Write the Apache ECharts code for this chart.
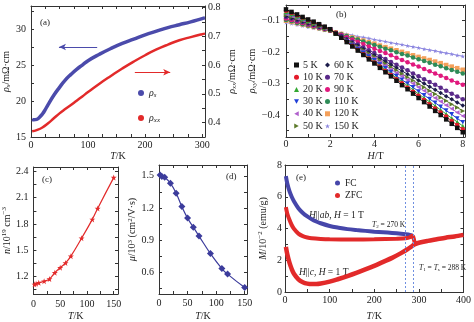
<!DOCTYPE html>
<html>
<head>
<meta charset="utf-8">
<script src="https://cdn.jsdelivr.net/npm/echarts@6/dist/echarts.min.js"></script>
<style>
html,body{margin:0;padding:0;background:#fff;}
#chart{width:474px;height:322px;}
</style>
</head>
<body>
<div id="chart"></div>
<script>
// ---------- (a) resistivity vs temperature ----------
const tempS = [2,5,10,15,20,25,30,40,50,60,70,80,90,100,120,140,160,180,200,220,240,260,280,300,305];
const rhoS = [17.45,17.4,17.45,17.75,18.2,18.8,19.5,20.8,21.9,22.9,23.7,24.4,25.0,25.6,26.5,27.3,28.0,28.6,29.2,29.7,30.2,30.6,31.0,31.45,31.55];
const tempXX = [2,10,20,30,40,50,60,70,80,90,100,120,140,160,180,200,220,240,260,280,300,305];
const rhoXX = [0.370,0.374,0.383,0.398,0.415,0.432,0.447,0.461,0.476,0.491,0.506,0.535,0.562,0.588,0.612,0.634,0.654,0.671,0.686,0.697,0.707,0.709];

// ---------- (b) Hall resistivity vs field ----------
const fieldH = [0,0.25,0.5,0.75,1,1.25,1.5,1.75,2,2.25,2.5,2.75,3,3.25,3.5,3.75,4,4.25,4.5,4.75,5,5.25,5.5,5.75,6,6.25,6.5,6.75,7,7.25,7.5,7.75,8];
const hall5K = [-0.064,-0.072,-0.080,-0.088,-0.096,-0.103,-0.111,-0.119,-0.127,-0.141,-0.154,-0.168,-0.182,-0.195,-0.209,-0.223,-0.236,-0.250,-0.264,-0.277,-0.291,-0.305,-0.318,-0.332,-0.346,-0.359,-0.373,-0.387,-0.400,-0.414,-0.428,-0.441,-0.455];
const hall10K = [-0.068,-0.075,-0.083,-0.090,-0.098,-0.105,-0.112,-0.120,-0.127,-0.140,-0.154,-0.167,-0.180,-0.193,-0.207,-0.220,-0.233,-0.246,-0.260,-0.273,-0.286,-0.299,-0.313,-0.326,-0.339,-0.352,-0.366,-0.379,-0.392,-0.405,-0.419,-0.432,-0.445];
const hall20K = [-0.072,-0.079,-0.086,-0.093,-0.100,-0.107,-0.114,-0.121,-0.128,-0.141,-0.154,-0.166,-0.179,-0.192,-0.205,-0.218,-0.230,-0.243,-0.256,-0.269,-0.282,-0.294,-0.307,-0.320,-0.333,-0.346,-0.358,-0.371,-0.384,-0.397,-0.410,-0.422,-0.435];
const hall30K = [-0.075,-0.082,-0.088,-0.095,-0.102,-0.108,-0.115,-0.121,-0.128,-0.140,-0.153,-0.165,-0.177,-0.190,-0.202,-0.214,-0.226,-0.239,-0.251,-0.263,-0.276,-0.288,-0.300,-0.312,-0.325,-0.337,-0.349,-0.361,-0.374,-0.386,-0.398,-0.411,-0.423];
const hall40K = [-0.079,-0.085,-0.092,-0.098,-0.104,-0.110,-0.117,-0.123,-0.129,-0.140,-0.152,-0.163,-0.175,-0.186,-0.198,-0.209,-0.220,-0.232,-0.243,-0.255,-0.266,-0.277,-0.289,-0.300,-0.312,-0.323,-0.335,-0.346,-0.357,-0.369,-0.380,-0.392,-0.403];
const hall50K = [-0.082,-0.088,-0.094,-0.100,-0.106,-0.111,-0.117,-0.123,-0.129,-0.140,-0.151,-0.161,-0.172,-0.183,-0.194,-0.204,-0.215,-0.226,-0.237,-0.247,-0.258,-0.269,-0.280,-0.290,-0.301,-0.312,-0.323,-0.333,-0.344,-0.355,-0.366,-0.376,-0.387];
const hall60K = [-0.085,-0.091,-0.096,-0.102,-0.108,-0.113,-0.119,-0.124,-0.130,-0.140,-0.150,-0.160,-0.170,-0.180,-0.190,-0.200,-0.210,-0.220,-0.230,-0.240,-0.250,-0.260,-0.270,-0.280,-0.290,-0.300,-0.310,-0.320,-0.330,-0.340,-0.350,-0.360,-0.370];
const hall70K = [-0.088,-0.093,-0.099,-0.104,-0.109,-0.114,-0.120,-0.125,-0.130,-0.139,-0.148,-0.158,-0.167,-0.176,-0.185,-0.194,-0.203,-0.213,-0.222,-0.231,-0.240,-0.249,-0.258,-0.268,-0.277,-0.286,-0.295,-0.304,-0.313,-0.323,-0.332,-0.341,-0.350];
const hall90K = [-0.093,-0.098,-0.103,-0.107,-0.112,-0.117,-0.122,-0.126,-0.131,-0.138,-0.145,-0.153,-0.160,-0.167,-0.174,-0.182,-0.189,-0.196,-0.203,-0.210,-0.218,-0.225,-0.232,-0.239,-0.246,-0.254,-0.261,-0.268,-0.275,-0.282,-0.290,-0.297,-0.304];
const hall110K = [-0.098,-0.102,-0.107,-0.111,-0.115,-0.119,-0.124,-0.128,-0.132,-0.138,-0.143,-0.149,-0.155,-0.160,-0.166,-0.172,-0.177,-0.183,-0.189,-0.194,-0.200,-0.206,-0.211,-0.217,-0.223,-0.228,-0.234,-0.240,-0.245,-0.251,-0.257,-0.262,-0.268];
const hall120K = [-0.100,-0.104,-0.108,-0.112,-0.116,-0.120,-0.124,-0.128,-0.132,-0.137,-0.142,-0.148,-0.153,-0.158,-0.163,-0.168,-0.173,-0.179,-0.184,-0.189,-0.194,-0.199,-0.204,-0.210,-0.215,-0.220,-0.225,-0.230,-0.235,-0.241,-0.246,-0.251,-0.256];
const hall150K = [-0.106,-0.109,-0.113,-0.116,-0.120,-0.123,-0.126,-0.130,-0.133,-0.136,-0.140,-0.143,-0.146,-0.150,-0.153,-0.156,-0.160,-0.163,-0.166,-0.170,-0.173,-0.176,-0.180,-0.183,-0.186,-0.190,-0.193,-0.196,-0.200,-0.203,-0.206,-0.210,-0.213];
const hallLabels = ['5 K','10 K','20 K','30 K','40 K','50 K','60 K','70 K','90 K','110 K','120 K','150 K'];

// ---------- (c), (d) carrier density and mobility ----------
const tempHall = [2,5,10,20,30,40,50,60,70,90,110,120,150];
const density = [1.110,1.117,1.128,1.146,1.171,1.243,1.300,1.354,1.432,1.637,1.852,1.977,2.329];
const mobility = [1.506,1.494,1.485,1.430,1.337,1.213,1.106,1.022,0.939,0.776,0.637,0.585,0.460];

// ---------- (e) magnetization vs temperature ----------
const tempFCab = [2,5,10,15,20,30,40,50,60,70,80,100,120,140,160,180,200,220,240,260,270,280,285];
const magFCab = [7.3,6.85,6.35,6.0,5.72,5.28,4.98,4.76,4.58,4.44,4.33,4.16,4.05,3.96,3.9,3.85,3.8,3.76,3.72,3.67,3.64,3.6,3.56];
const tempZFCab = [2,5,10,15,20,30,40,50,60,80,100,150,200,250,270,280,284,287,289,291,294];
const magZFCab = [5.35,4.95,4.55,4.22,3.98,3.68,3.52,3.43,3.38,3.34,3.32,3.31,3.32,3.35,3.38,3.45,3.55,3.5,3.3,3.12,3.05];
const tempC = [2,5,10,15,20,30,40,50,60,70,80,100,120,140,160,180,200,220,240,260,275,285,290,300,320,340,360,380,400];
const magC = [2.85,2.4,1.85,1.45,1.15,0.8,0.62,0.53,0.5,0.5,0.53,0.65,0.82,1.0,1.2,1.42,1.65,1.9,2.15,2.45,2.7,2.9,3.0,3.1,3.22,3.32,3.42,3.5,3.6];
const transitionT = [270, 288];

// ---------- tick positions and labels ----------
const ticksA_x = [0,25,50,75,100,125,150,175,200,225,250,275,300];
const labelsA_x = [0,100,200,300];
const ticksA_yl = [15,17.5,20,22.5,25,27.5,30,32.5];
const labelsA_yl = [15,20,25,30];
const ticksA_yr = [0.35,0.4,0.45,0.5,0.55,0.6,0.65,0.7,0.75,0.8];
const labelsA_yr = [0.4,0.5,0.6,0.7,0.8];
const ticksB_x = [0,1,2,3,4,5,6,7,8];
const labelsB_x = [0,2,4,6,8];
const ticksB_y = [-0.45,-0.4,-0.35,-0.3,-0.25,-0.2,-0.15,-0.1,-0.05];
const labelsB_y = [-0.4,-0.3,-0.2,-0.1];
const ticksCD_x = [0,25,50,75,100,125,150];
const labelsCD_x = [0,50,100,150];
const ticksC_y = [1.05,1.2,1.35,1.5,1.65,1.8,1.95,2.1,2.25,2.4];
const labelsC_y = [1.2,1.5,1.8,2.1,2.4];
const ticksD_y = [0.45,0.6,0.75,0.9,1.05,1.2,1.35,1.5];
const labelsD_y = [0.6,0.9,1.2,1.5];
const ticksE_x = [0,50,100,150,200,250,300,350,400];
const labelsE_x = [0,100,200,300,400];
const ticksE_y = [0,1,2,3,4,5,6,7,8];
const labelsE_y = [0,2,4,6,8];

// ---------- styling helpers ----------
const SERIF = 'Liberation Serif';
const INK = '#222';
const AX = '#333';
const BLUE = '#4b4bab';
const RED = '#e22a2a';

const rich = {
  i:   {fontStyle: 'italic', fontFamily: SERIF, fontSize: 10, color: INK, lineHeight: 12},
  s:   {fontStyle: 'italic', fontFamily: SERIF, fontSize: 7, color: INK, verticalAlign: 'bottom', lineHeight: 12},
  sup: {fontFamily: SERIF, fontSize: 7, color: INK, verticalAlign: 'top', lineHeight: 12}
};

function fmt(dec) {
  return v => {
    const s = Math.abs(v).toFixed(dec);
    return v < 0 ? '\u2212' + s : s;
  };
}

function pairs(xs, ys) { return xs.map((x, k) => [x, ys[k]]); }

function xPair(g, min, max, ticks, labels, dec, name, gap, margin) {
  return [
    {gridIndex: g, type: 'value', position: 'bottom', min, max,
     axisLine: {onZero: false, lineStyle: {color: AX, width: 1}},
     axisTick: {inside: true, length: 3, customValues: ticks, lineStyle: {color: AX}},
     axisLabel: {customValues: labels, margin, fontFamily: SERIF, fontSize: 10, color: INK, formatter: fmt(dec)},
     splitLine: {show: false},
     name, nameLocation: 'middle', nameGap: gap,
     nameTextStyle: {fontFamily: SERIF, fontSize: 10, color: INK, rich}},
    {gridIndex: g, type: 'value', position: 'top', min, max,
     axisLine: {onZero: false, lineStyle: {color: AX, width: 1}},
     axisTick: {inside: true, length: 3, customValues: ticks, lineStyle: {color: AX}},
     axisLabel: {show: false}, splitLine: {show: false}}
  ];
}

function yAxisDef(g, pos, min, max, ticks, labels, dec, name, gap, margin) {
  const ax = {gridIndex: g, type: 'value', position: pos, min, max,
    axisLine: {show: true, onZero: false, lineStyle: {color: AX, width: 1}},
    axisTick: {show: true, inside: true, length: 3, customValues: ticks, lineStyle: {color: AX}},
    splitLine: {show: false}};
  if (labels) {
    ax.axisLabel = {customValues: labels, margin, fontFamily: SERIF, fontSize: 10, color: INK, formatter: fmt(dec)};
    ax.name = name; ax.nameLocation = 'middle'; ax.nameGap = gap; ax.nameRotate = 90;
    ax.nameTextStyle = {fontFamily: SERIF, fontSize: 10, color: INK, rich};
  } else {
    ax.axisLabel = {show: false};
  }
  return ax;
}

// ---------- Hall series styles ----------
const triDown = 'path://M0,0 L10,0 L5,9 Z';
const triLeft = 'path://M9,0 L9,10 L0,5 Z';
const triRight = 'path://M0,0 L9,5 L0,10 Z';
const star = 'path://M5,0 L6.2,3.6 L10,3.6 L7,5.9 L8.1,9.5 L5,7.3 L1.9,9.5 L3,5.9 L0,3.6 L3.8,3.6 Z';
const hallData = [hall5K, hall10K, hall20K, hall30K, hall40K, hall50K, hall60K, hall70K, hall90K, hall110K, hall120K, hall150K];
const hallColors = ['#111111','#e41a2a','#33a832','#1f3fd8','#b060cc','#5c7a2a','#1c1c4a','#5a2a8a','#e0197d','#2e8b57','#f4a05a','#8c86e0'];
const hallSymbols = ['rect','circle','triangle',triDown,triLeft,triRight,'diamond','circle','circle','circle','rect',star];

const hallSeries = hallData.map((vals, k) => ({
  type: 'line', name: hallLabels[k], xAxisIndex: 2, yAxisIndex: 2,
  data: pairs(fieldH, vals),
  symbol: hallSymbols[k], symbolSize: 4.5, showSymbol: true,
  lineStyle: {color: hallColors[k], width: 1},
  itemStyle: {color: hallColors[k]},
  z: 20 - k
}));

const hallLegend = (items, left) => ({
  data: items.map(n => ({name: n, icon: hallSymbols[hallLabels.indexOf(n)]})),
  orient: 'vertical', left, top: 55, itemWidth: 5, itemHeight: 5, itemGap: 2.2,
  textStyle: {fontFamily: SERIF, fontSize: 10, color: INK, lineHeight: 10, padding: [0, 0, 0, -1]},
  selectedMode: false
});

const smallRich = {
  i:   {fontStyle: 'italic', fontFamily: SERIF, fontSize: 7.5, fill: INK},
  s:   {fontFamily: SERIF, fontSize: 5, fill: INK, verticalAlign: 'bottom', lineHeight: 9},
  n:   {fontFamily: SERIF, fontSize: 7.5, fill: INK}
};
const midRich = {
  i: {fontStyle: 'italic', fontFamily: SERIF, fontSize: 9.5, fill: INK},
  n: {fontFamily: SERIF, fontSize: 9.5, fill: INK}
};

function txt(x, y, text, size, r) {
  return {type: 'text', x, y, silent: true,
    style: {text, fontFamily: SERIF, fontSize: size, fill: INK, align: 'left', verticalAlign: 'middle', rich: r || {}}};
}

const option = {
  animation: false,
  backgroundColor: '#fff',
  textStyle: {fontFamily: SERIF},
  grid: [
    {left: 31, top: 6, width: 174, height: 131},
    {left: 286, top: 5, width: 179, height: 132},
    {left: 30, top: 167, width: 88, height: 128},
    {left: 159, top: 165, width: 88, height: 131},
    {left: 285, top: 165, width: 184, height: 129}
  ],
  xAxis: [
    ...xPair(0, 0, 305, ticksA_x, labelsA_x, 0, '{i|T}/K', 13, 3),
    ...xPair(1, 0, 8.1, ticksB_x, labelsB_x, 0, '{i|H}/T', 13, 2),
    ...xPair(2, 0, 158, ticksCD_x, labelsCD_x, 0, '{i|T}/K', 16, 5),
    ...xPair(3, 0, 154, ticksCD_x, labelsCD_x, 0, '{i|T}/K', 16, 4),
    ...xPair(4, 0, 400, ticksE_x, labelsE_x, 0, '{i|T}/K', 18, 3)
  ],
  yAxis: [
    yAxisDef(0, 'left', 15, 33.2, ticksA_yl, labelsA_yl, 0, '{i|ρ}{s|s}/mΩ·cm', 17, 5),
    yAxisDef(0, 'right', 0.35, 0.805, ticksA_yr, labelsA_yr, 1, '{i|ρ}{s|xx}/mΩ·cm', 21, 3),
    yAxisDef(1, 'left', -0.47, -0.05, ticksB_y, labelsB_y, 1, '{i|ρ}{s|xy}/mΩ·cm', 25, 6),
    yAxisDef(1, 'right', -0.47, -0.05, ticksB_y, null),
    yAxisDef(2, 'left', 1.0, 2.45, ticksC_y, labelsC_y, 1, '{i|n}/10{sup|19} cm{sup|−3}', 16, 5),
    yAxisDef(2, 'right', 1.0, 2.45, ticksC_y, null),
    yAxisDef(3, 'left', 0.4, 1.6, ticksD_y, labelsD_y, 1, '{i|μ}/10{sup|3} (cm{sup|2}/V·s)', 15, 5),
    yAxisDef(3, 'right', 0.4, 1.6, ticksD_y, null),
    yAxisDef(4, 'left', 0, 8, ticksE_y, labelsE_y, 0, '{i|M}/10{sup|−2} (emu/g)', 16, 3),
    yAxisDef(4, 'right', 0, 8, ticksE_y, null)
  ],
  legend: [
    {data: [{name: 'ρs', icon: 'circle'}, {name: 'ρxx', icon: 'circle'}],
     orient: 'vertical', left: 133, top: 83, itemWidth: 6, itemHeight: 6, itemGap: 14,
     formatter: n => n === 'ρs' ? '{i|ρ}{s|s}' : '{i|ρ}{s|xx}',
     textStyle: {fontFamily: SERIF, fontSize: 10, color: INK, rich}, selectedMode: false},
    hallLegend(hallLabels.slice(0, 6), 289),
    hallLegend(hallLabels.slice(6), 320),
    {data: [{name: 'FC', icon: 'circle'}, {name: 'ZFC', icon: 'circle'}],
     orient: 'vertical', left: 330, top: 173, itemWidth: 5, itemHeight: 5, itemGap: 2.5,
     textStyle: {fontFamily: SERIF, fontSize: 9.5, color: INK, lineHeight: 10}, selectedMode: false}
  ],
  series: [
    {type: 'line', name: 'ρs', xAxisIndex: 0, yAxisIndex: 0, data: pairs(tempS, rhoS),
     smooth: true, showSymbol: false, lineStyle: {color: BLUE, width: 3.5}, itemStyle: {color: BLUE},
     markLine: {silent: true, symbol: ['none', 'arrow'], symbolSize: [5, 7],
       lineStyle: {color: BLUE, width: 1.2, type: 'solid'}, label: {show: false},
       data: [[{coord: [116, 27.5]}, {coord: [49, 27.5]}]]}},
    {type: 'line', name: 'ρxx', xAxisIndex: 0, yAxisIndex: 1, data: pairs(tempXX, rhoXX),
     smooth: true, showSymbol: false, lineStyle: {color: RED, width: 2.5}, itemStyle: {color: RED},
     markLine: {silent: true, symbol: ['none', 'arrow'], symbolSize: [5, 7],
       lineStyle: {color: RED, width: 1.2, type: 'solid'}, label: {show: false},
       data: [[{coord: [182, 0.575]}, {coord: [244, 0.575]}]]}},
    ...hallSeries,
    {type: 'line', name: 'n', xAxisIndex: 4, yAxisIndex: 4, data: pairs(tempHall, density),
     smooth: true, symbol: star, symbolSize: 6, lineStyle: {color: RED, width: 1.2}, itemStyle: {color: RED}},
    {type: 'line', name: 'μ', xAxisIndex: 6, yAxisIndex: 6, data: pairs(tempHall, mobility),
     smooth: true, symbol: 'diamond', symbolSize: 7, lineStyle: {color: '#3c3c9c', width: 1.2}, itemStyle: {color: '#3c3c9c'}},
    {type: 'line', name: 'FC', xAxisIndex: 8, yAxisIndex: 8, data: pairs(tempFCab, magFCab),
     smooth: 0.3, showSymbol: false, lineStyle: {color: '#4646aa', width: 4}, itemStyle: {color: '#4646aa'},
     markLine: {silent: true, symbol: 'none', label: {show: false},
       lineStyle: {color: '#6f8fe0', width: 1, type: [2, 2]},
       data: transitionT.map(t => ({xAxis: t}))}},
    {type: 'line', name: 'ZFC', xAxisIndex: 8, yAxisIndex: 8, data: pairs(tempZFCab, magZFCab),
     smooth: 0.3, showSymbol: false, lineStyle: {color: RED, width: 4}, itemStyle: {color: RED}},
    {type: 'line', name: 'ZFC', xAxisIndex: 8, yAxisIndex: 8, data: pairs(tempC, magC),
     smooth: 0.3, showSymbol: false, lineStyle: {color: RED, width: 4.5}, itemStyle: {color: RED}}
  ],
  graphic: [
    txt(40, 23, '(a)', 9),
    txt(336, 15, '(b)', 9),
    txt(42, 180, '(c)', 9),
    txt(226, 177, '(d)', 9),
    txt(296, 178, '(e)', 9),
    txt(309, 215, '{i|H}||{i|ab}, {i|H} = 1 T', 9.5, midRich),
    txt(299, 272, '{i|H}||{i|c}, {i|H} = 1 T', 9.5, midRich),
    txt(372, 225, '{i|T}{s|2}{n| = 270 K}', 7.5, smallRich),
    txt(419, 268, '{i|T}{s|1}{n| = }{i|T}{s|s}{n| = 288 K}', 7.5, smallRich)
  ]
};

const chart = echarts.init(document.getElementById('chart'), null, {renderer: 'canvas'});
chart.setOption(option);
</script>
</body>
</html>
